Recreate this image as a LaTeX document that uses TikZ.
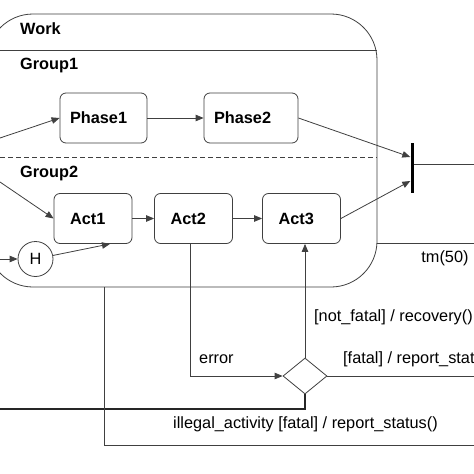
\documentclass[tikz,border=0pt]{standalone}
\usepackage{fontspec}
\setmainfont{Liberation Sans}
\usetikzlibrary{arrows.meta,shapes.geometric,calc}
\begin{document}
\begin{tikzpicture}[x=1pt,y=-1pt,
  line/.style={draw=black!75, line width=0.8pt},
  arr/.style={line, -{Triangle[length=8pt,width=6.5pt]}},
  txt/.style={font=\fontsize{16.3}{19}\selectfont, inner sep=0pt, text=black},
  btxt/.style={font=\fontsize{16.3}{19}\selectfont\bfseries, inner sep=0pt, text=black},
  statebox/.style={draw=black!75, line width=0.8pt, rounded corners=6pt, minimum height=50pt,
    align=left, inner ysep=0pt, font=\fontsize{16.3}{19}\selectfont\bfseries},
  phasebox/.style={statebox, inner xsep=10pt},
  actbox/.style={statebox, inner xsep=16pt, text width=46pt}]
\useasboundingbox (0,0) rectangle (474,474);
\clip (0,0) rectangle (474,474);
\fill[white] (0,0) rectangle (474,474);

% Work superstate
\node[draw=black!75, line width=0.8pt, rounded corners=46pt, minimum width=390pt, minimum height=273pt, inner sep=0pt] (work) at (182,150.5) {};
\coordinate (hdr) at (0,50);
\draw[line] (hdr) -- (hdr -| work.east);
\coordinate (dsh) at (0,157);
\draw[line, dashed, dash pattern=on 5pt off 3pt] (dsh) -- (dsh -| work.east);
\node[btxt, anchor=west] (worklbl) at (20,29) {Work};
\node[btxt, anchor=west] (g1lbl) at (20,65) {Group1};
\node[btxt, anchor=west] (g2lbl) at (20,173) {Group2};

% Group1
\node[phasebox, text width=67pt] (p1) at (103.5,118) {Phase1};
\node[phasebox, text width=74pt] (p2) at (251,118) {Phase2};
\coordinate (inP) at (0,138);
\draw[arr] (inP) -- (p1.west);
\draw[arr] (p1.east) -- (p2.west);

% Group2
\node[actbox] (a1) at (93,218.5) {Act1};
\node[actbox] (a2) at (193.5,218.5) {Act2};
\node[actbox] (a3) at (301.5,218.5) {Act3};
\coordinate (inA) at (0,182);
\draw[arr] (inA) -- (a1.west);
\draw[arr] (a1.east) -- (a2.west);
\draw[arr] (a2.east) -- (a3.west);

% History
\node[circle, draw=black!75, line width=0.8pt, minimum size=35pt, inner sep=0pt, font=\fontsize{16.3}{19}\selectfont] (h) at (35.5,259) {H};
\coordinate (inH) at (0,259);
\draw[arr] (inH) -- (h.west);
\draw[arr] (h) -- ([xshift=17pt]a1.south);

% Sync bar
\node[fill=black, minimum width=3pt, minimum height=50pt, inner sep=0pt] (bar) at (412,168) {};
\draw[arr] (p2.east) -- ([yshift=11pt]bar.west);
\draw[arr] (a3.east) -- ([yshift=-13pt]bar.west);
\coordinate (barOut) at (474,164);
\draw[line] (barOut -| bar.east) -- (barOut);

% tm(50)
\coordinate (tmEnd) at (474,243);
\draw[line] (tmEnd -| work.east) -- (tmEnd);
\node[txt] (tmlbl) at (445,258) {tm(50)};

% Decision
\node[diamond, draw=black!75, line width=0.8pt, minimum width=44pt, minimum height=36pt, inner sep=0pt] (dia) at (305,376) {};
\draw[arr] ([xshift=-3.5pt]a2.south) |- (dia.west);
\node[txt, anchor=west] (errlbl) at (199,359) {error};
\draw[arr] (dia.north) -- (dia.north |- a3.south);
\node[txt, anchor=west] (nflbl) at (314,317) {[not\_fatal] / recovery()};
\coordinate (fatalEnd) at (474,376);
\draw[line] (dia.east) -- (fatalEnd);
\node[txt, anchor=west] (flbl) at (343,359) {[fatal] / report\_status()};
\coordinate (dOut) at (0,409);
\draw[draw=black!85, line width=1.1pt] (dia.south) |- (dOut);

% illegal activity
\coordinate (illEnd) at (474,445);
\draw[line] ([xshift=-78pt]work.south) |- (illEnd);
\node[txt] (illlbl) at (305.5,424) {illegal\_activity [fatal] / report\_status()};
\end{tikzpicture}
\end{document}
